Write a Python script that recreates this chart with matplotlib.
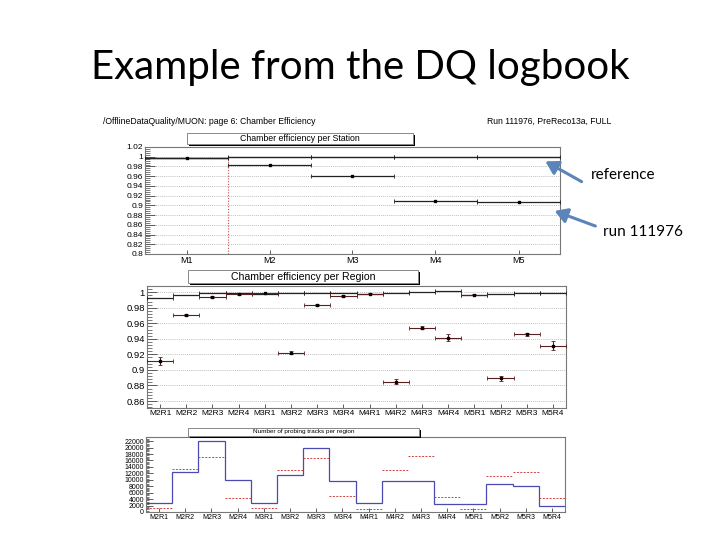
"""DQ logbook slide: MUON chamber efficiency per station / region and probing tracks."""
import matplotlib

matplotlib.use("Agg")
import matplotlib.pyplot as plt
from matplotlib.patches import Rectangle, FancyArrowPatch
from matplotlib.ticker import MultipleLocator

W, H = 720, 540

# --- data -------------------------------------------------------------------
stations = ["M1", "M2", "M3", "M4", "M5"]
station_ref = [0.9975, 0.9995, 1.0, 1.0, 0.9995]
station_run = [0.9975, 0.9838, 0.9606, 0.9096, 0.9068]

regions = ["M2R1", "M2R2", "M2R3", "M2R4", "M3R1", "M3R2", "M3R3", "M3R4",
           "M4R1", "M4R2", "M4R3", "M4R4", "M5R1", "M5R2", "M5R3", "M5R4"]
region_ref = [0.993, 0.996, 0.9987, 0.9988, 0.9983, 0.9996, 0.9996, 0.9996,
              0.998, 0.9991, 1.0, 1.0017, 0.9965, 0.998, 0.9993, 0.9985]
region_run = [0.911, 0.971, 0.9935, 0.9978, 0.9985, 0.922, 0.9835, 0.9948,
              0.998, 0.8848, 0.9544, 0.9417, 0.997, 0.889, 0.946, 0.931]
region_err = [0.005, 0.0015, 0.001, 0.001, 0.0005, 0.002, 0.001, 0.001,
              0.0005, 0.003, 0.002, 0.005, 0.0005, 0.003, 0.002, 0.006]
shaded_regions = ["M2R4"]

tracks_run = [2800, 12300, 22100, 10000, 2800, 11400, 19900, 9700,
              2650, 9600, 9600, 2400, 2400, 8800, 8200, 2000]
tracks_ref = [1300, 13400, 17100, 4400, 1300, 13100, 16700, 4900,
              900, 13200, 17300, 4700, 1000, 11150, 12500, 4400]

BLUE_ARROW = "#5b84b8"
FRAME = "#777777"


def fpos(left, top, right, bottom):
    """pixel box (from top-left) -> figure fraction rect"""
    return [left / W, 1 - bottom / H, (right - left) / W, (bottom - top) / H]


def px(x, y):
    return x / W, 1 - y / H


def title_box(fig, left, top, right, bottom, text, size):
    x0, y0 = px(left, bottom)
    w, h = (right - left) / W, (bottom - top) / H
    fig.patches.append(Rectangle((x0 + 2 / W, y0 - 2 / H), w, h, transform=fig.transFigure,
                                 facecolor="black", edgecolor="none", zorder=5))
    fig.patches.append(Rectangle((x0, y0), w, h, transform=fig.transFigure,
                                 facecolor="white", edgecolor="#888888", linewidth=0.7, zorder=6))
    fig.text(x0 + w / 2, y0 + h / 2, text, ha="center", va="center", fontsize=size,
             family="Liberation Sans", zorder=7)


def style_axes(ax, labelsize):
    for sp in ax.spines.values():
        sp.set_color(FRAME)
        sp.set_linewidth(0.8)
    ax.tick_params(axis="both", which="both", direction="in", labelsize=labelsize,
                   colors="#444444", labelcolor="black", pad=1.5)
    ax.tick_params(axis="y", which="major", length=7, width=0.6)
    ax.tick_params(axis="y", which="minor", length=3.5, width=0.5)
    ax.tick_params(axis="x", which="major", length=3, width=0.6)
    for lab in ax.get_xticklabels() + ax.get_yticklabels():
        lab.set_family("Liberation Sans")


fig = plt.figure(figsize=(7.2, 5.4), dpi=100)
fig.patch.set_facecolor("white")

fig.text(0.5, 1 - 67 / H, "Example from the DQ logbook", ha="center", va="center",
         fontsize=29, family="Lato", color="black")
fig.text(*px(103, 121), "/OfflineDataQuality/MUON: page 6: Chamber Efficiency", ha="left",
         va="center", fontsize=6.2, family="Liberation Sans")
fig.text(*px(611, 121), "Run 111976, PreReco13a, FULL", ha="right", va="center",
         fontsize=6.2, family="Liberation Sans")

# --- panel 1: per station ---------------------------------------------------
ax1 = fig.add_axes(fpos(145, 147, 560, 254))
xs = list(range(1, len(stations) + 1))
ax1.errorbar(xs, station_ref, xerr=0.5, fmt="none", ecolor="#222222", elinewidth=1.0,
             capsize=1.5, capthick=0.6, zorder=3)
ax1.errorbar(xs, station_run, xerr=0.5, fmt="s", ms=1.6, color="black", ecolor="#222222",
             elinewidth=0.9, capsize=1.5, capthick=0.6, zorder=4)
ax1.vlines(1.5, 0.8, station_ref[0], colors="#d05050", linestyles=(0, (1, 1.5)), linewidth=0.8)
ax1.set_xlim(0.5, len(stations) + 0.5)
ax1.set_ylim(0.8, 1.02)
ax1.set_xticks(xs)
ax1.set_xticklabels(stations)
ax1.yaxis.set_major_locator(MultipleLocator(0.02))
ax1.yaxis.set_minor_locator(MultipleLocator(0.004))
ax1.set_yticklabels([f"{v:g}" for v in ax1.get_yticks()])
ax1.yaxis.grid(True, which="major", color="#aaaaaa", linestyle=(0, (1.5, 1.5)), linewidth=0.5)
style_axes(ax1, 6)
ax1.tick_params(axis="x", labelsize=6.5)
title_box(fig, 187, 133, 413, 144, "Chamber efficiency per Station", 6.3)

# --- panel 2: per region ----------------------------------------------------
ax2 = fig.add_axes(fpos(147, 286, 566, 408))
xr = list(range(1, len(regions) + 1))
for x, ref, run, name in zip(xr, region_ref, region_run, regions):
    if 0.002 < abs(ref - run) < 0.01:
        face = "#d0d0d0" if name in shaded_regions else "white"
        ax2.add_patch(Rectangle((x - 0.5, min(ref, run)), 1.0, abs(ref - run),
                                facecolor=face, edgecolor="#444444", linewidth=0.6, zorder=2))
ax2.errorbar(xr, region_ref, xerr=0.5, fmt="none", ecolor="#222222", elinewidth=0.9,
             capsize=1.2, capthick=0.6, zorder=3)
ax2.errorbar(xr, region_run, xerr=0.5, yerr=region_err, fmt="s", ms=1.7, mfc="black",
             mec="black", ecolor="#5a2020", elinewidth=0.8, capsize=1.5, capthick=0.6, zorder=4)
ax2.set_xlim(0.5, len(regions) + 0.5)
ax2.set_ylim(0.851, 1.008)
ax2.set_xticks(xr)
ax2.set_xticklabels(regions)
ax2.yaxis.set_major_locator(MultipleLocator(0.02))
ax2.yaxis.set_minor_locator(MultipleLocator(0.004))
ax2.set_yticklabels([f"{v:g}" for v in ax2.get_yticks()])
ax2.yaxis.grid(True, which="major", color="#aaaaaa", linestyle=(0, (1.5, 1.5)), linewidth=0.5)
style_axes(ax2, 6.8)
ax2.tick_params(axis="x", labelsize=6.0)
title_box(fig, 188, 270, 418, 283, "Chamber efficiency per Region", 7.6)

# --- panel 3: probing tracks ------------------------------------------------
ax3 = fig.add_axes(fpos(146, 437, 565, 512))
edges = [x - 0.5 for x in xr] + [len(regions) + 0.5]
ax3.stairs(tracks_run, edges, color="#4a4ab0", linewidth=0.9, baseline=None)
ax3.hlines(tracks_ref, [x - 0.5 for x in xr], [x + 0.5 for x in xr], colors="#d04040",
           linestyles=(0, (2, 1.5)), linewidth=0.7)
ax3.set_xlim(0.5, len(regions) + 0.5)
ax3.set_ylim(0, 23300)
ax3.set_xticks(xr)
ax3.set_xticklabels(regions)
ax3.yaxis.set_major_locator(MultipleLocator(2000))
ax3.yaxis.set_minor_locator(MultipleLocator(400))
style_axes(ax3, 5)
ax3.tick_params(axis="y", which="major", length=5)
ax3.tick_params(axis="y", which="minor", length=2.5)
title_box(fig, 188, 428, 419, 436, "Number of probing tracks per region", 4.6)

# --- annotations ------------------------------------------------------------
fig.text(*px(591, 175), "reference", ha="left", va="center", fontsize=11, family="Lato")
fig.text(*px(603, 232), "run 111976", ha="left", va="center", fontsize=11, family="Lato")
for tail, head in [((584, 183), (543, 160)), ((598, 227), (552, 210))]:
    fig.patches.append(FancyArrowPatch(
        px(*tail), px(*head), transform=fig.transFigure,
        arrowstyle="-|>,head_length=5,head_width=3",
        color=BLUE_ARROW, linewidth=2.2, mutation_scale=1.5))

fig.savefig("out.png", dpi=100)
